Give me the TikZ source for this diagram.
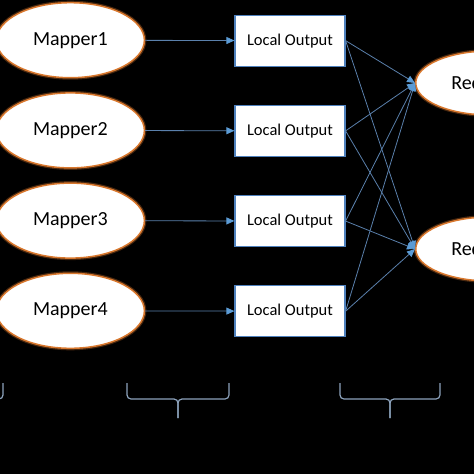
\documentclass[tikz,border=0pt]{standalone}
\usepackage{fontspec}
\setmainfont{Carlito}
\usetikzlibrary{positioning}
\usetikzlibrary{arrows.meta}
\usetikzlibrary{shapes.geometric}
\usetikzlibrary{matrix}
\usetikzlibrary{graphs}
\definecolor{vBlue}{HTML}{4F81BD}
\definecolor{vLine}{HTML}{5A80AC}
\definecolor{vTip}{HTML}{5B9BD5}
\definecolor{vGlow}{HTML}{D9782E}
\definecolor{vBrace}{HTML}{8CA2BC}

\begin{document}
\begin{tikzpicture}[x=1pt, y=-1pt,
    mapper/.style = {ellipse, fill=white, draw=vGlow, line width=1.5pt,
      minimum width=148pt, minimum height=75pt, inner sep=0pt,
      font=\fontsize{20}{24}\selectfont,
      preaction={draw=vGlow!55!black, line width=4pt, opacity=0.6}},
    outbox/.style = {rectangle, fill=white, draw=vBlue, line width=1.2pt,
      minimum width=110pt, minimum height=51pt, inner sep=0pt,
      font=\fontsize{16.5}{19}\selectfont},
    outedge/.style = {vLine, line width=0.8pt, -{Triangle[length=8pt, width=7pt, color=vTip]}},
    colbrace/.style = {vBrace, line width=1.2pt, rounded corners=4pt},
    ]

    \useasboundingbox[fill=black] (0,0) rectangle (474,474);
    \clip (0,0) rectangle (474,474);

    \matrix[matrix of nodes, column sep=88pt, row sep=11.2pt, inner sep=0pt,
      ampersand replacement=\&,
      column 1/.style = {nodes={mapper}},
      column 2/.style = {nodes={outbox}},
    ] (mr) at (170,175.5) {
      Mapper1 \& Local Output \\
      Mapper2 \& Local Output \\
      Mapper3 \& Local Output \\
      Mapper4 \& Local Output \\
    };

    \node[mapper, minimum height=64pt, anchor=west] (r1) at (415,83) {Reducer1};
    \node[mapper, minimum height=64pt, anchor=west] (r2) at (415,249) {Reducer2};

    \graph[edges={outedge}] {
      % mapper -> local output
      (mr-1-1) -> (mr-1-2),
      (mr-2-1) -> (mr-2-2),
      (mr-3-1) -> (mr-3-2),
      (mr-4-1) -> (mr-4-2),
    };

    % local output -> reducers
    \foreach \i in {1,...,4} {
      \draw[outedge] (mr-\i-2.east) -- (r1.west);
      \draw[outedge] (mr-\i-2.east) -- (r2.west);
    }

    % braces under the columns
    \draw[colbrace] (3,383) -- (3,399) -- (-48,399) -- (-48,418);
    \draw[colbrace] (127,383) -- (127,399) -- (178,399) -- (178,418);
    \draw[colbrace] (229,383) -- (229,399) -- (178,399) -- (178,418);
    \draw[colbrace] (340,383) -- (340,399) -- (390,399) -- (390,418);
    \draw[colbrace] (440,383) -- (440,399) -- (390,399) -- (390,418);

\end{tikzpicture}
\end{document}
